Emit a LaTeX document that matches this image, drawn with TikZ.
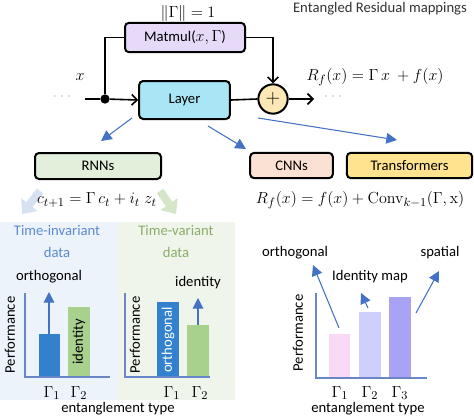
\documentclass[tikz,border=0pt]{standalone}
\usepackage[no-math]{fontspec}
\setmainfont{Carlito}
\usetikzlibrary{arrows.meta}
\definecolor{matmulpurple}{HTML}{E6DAF8}
\definecolor{layercyan}{HTML}{A8E6F5}
\definecolor{plusyellow}{HTML}{FCE8B6}
\definecolor{rnngreen}{HTML}{E2EFDA}
\definecolor{cnnpeach}{HTML}{FBE1D3}
\definecolor{transgold}{HTML}{FFE38F}
\definecolor{arrowblue}{HTML}{4472C4}
\definecolor{fadeblue}{HTML}{D6E2F3}
\definecolor{fadegreen}{HTML}{D5E6C8}
\definecolor{bgblue}{HTML}{EDF3FA}
\definecolor{bggreen}{HTML}{EFF5EA}
\definecolor{invarblue}{HTML}{5B8BD0}
\definecolor{vargreen}{HTML}{8AAE6A}
\definecolor{barblue}{HTML}{3380CC}
\definecolor{bargreen}{HTML}{A9D18E}
\definecolor{axisblue}{HTML}{6A86C8}
\definecolor{barpink}{HTML}{F9D9F6}
\definecolor{barlilac}{HTML}{CFCFFB}
\definecolor{barviolet}{HTML}{AAA2F2}
\tikzset{
    box/.style={draw,line width=1.5pt,rounded corners=3pt,inner sep=0pt},
    conn/.style={line width=1.2pt},
    blackhead/.style={-{Straight Barb[length=4pt,width=8pt]}},
    bluearrow/.style={arrowblue,line width=0.8pt,-{Triangle[length=8pt,width=8pt]}},
    fadearrow/.style={line width=6pt,-{Triangle[length=9pt,width=15pt]}},
    axis/.style={axisblue,line width=1pt},
    lbl/.style={font=\fontsize{11}{13}\selectfont,inner sep=1pt},
    eq/.style={font=\fontsize{12.5}{14}\selectfont,inner sep=1pt}
}
\newcommand{\perfbar}[4]{
    \fill[#4] (#1,#3) rectangle (#2,377);
}
\begin{document}
\begin{tikzpicture}[x=0.75pt,y=-0.75pt]
        \useasboundingbox (0,0) rectangle (474,418);

        \node[lbl,text=black!80] (title) at (380,9) {Entangled Residual mappings};
        \node[eq] (norm) at (188,13) {$\|\Gamma\| = 1$};

        \node[box,fill=matmulpurple,minimum width=90pt,minimum height=22pt,lbl] (matmul) at (185,37.5) {Matmul({\fontsize{12.5}{14}\selectfont$x,\Gamma$})};
        \node[box,fill=layercyan,minimum width=68pt,minimum height=28.5pt,lbl] (layer) at (184.5,100) {Layer};
        \node[circle,draw,line width=1.5pt,fill=plusyellow,minimum size=22pt,inner sep=0pt] (plus) at (273,99) {\Large $\mathbf{+}$};
        \node[circle,fill,inner sep=0pt,minimum size=7pt] (dot) at (105,99) {};
        \node[eq,text=black!25] (ldots) at (62,97) {$\cdots$};
        \node[eq,text=black!25] (rdots) at (333,97) {$\cdots$};
        \coordinate (xin) at (85,99);
        \coordinate (xout) at (314,99);
        \node[eq] (xlabel) at (80,77) {$x$};
        \node[eq] (rfout) at (375,77) {$R_f(x) = \Gamma\, x\ + f(x)$};

        \draw[conn] (xin) -- (dot);
        \draw[conn,blackhead] (dot) -- (layer.west);
        \draw[conn] (dot) |- (matmul.west);
        \draw[conn,blackhead] (matmul.east) -| (plus.north);
        \draw[conn] (layer.east) -- (plus.west);
        \draw[conn,blackhead] (plus.east) -- (xout);

        \node[box,fill=rnngreen,minimum width=94.5pt,minimum height=19.5pt,lbl] (rnn) at (98,166) {RNNs};
        \node[box,fill=cnnpeach,minimum width=62pt,minimum height=19pt,lbl] (cnn) at (291.5,165.5) {CNNs};
        \node[box,fill=transgold,minimum width=94pt,minimum height=19pt,lbl] (trans) at (409.5,165.5) {Transformers};

        \coordinate (s1) at (132,118);
        \coordinate (t1) at (101,141);
        \coordinate (s2) at (208,126);
        \coordinate (t2) at (246,149);
        \coordinate (s3) at (258,118);
        \coordinate (t3) at (397,140);
        \draw[bluearrow] (s1) -- (t1);
        \draw[bluearrow] (s2) -- (t2);
        \draw[bluearrow] (s3) -- (t3);

        \fill[bgblue] (0,222) rectangle (118,400);
        \fill[bggreen] (118,222) rectangle (235,400);
        \coordinate (fb1) at (40,191);
        \coordinate (fb2) at (22,214);
        \coordinate (fg1) at (160,191);
        \coordinate (fg2) at (176,214);
        \draw[fadearrow,fadeblue] (fb1) -- (fb2);
        \draw[fadearrow,fadegreen] (fg1) -- (fg2);

        \node[eq] (rnneq) at (97,200) {$c_{t+1} = \Gamma\, c_t + i_t\; z_t$};
        \node[eq] (cnneq) at (360,200) {$R_f(x) = f(x) + \mathrm{Conv}_{k-1}(\Gamma, \mathrm{x})$};

        \node[lbl,text=invarblue] (invar) at (57,231) {Time-invariant};
        \node[lbl,text=invarblue] (invardata) at (57,252) {data};
        \node[lbl,text=vargreen] (var) at (176,231) {Time-variant};
        \node[lbl,text=vargreen] (vardata) at (176,252) {data};

        \perfbar{39}{60}{334}{barblue}
        \perfbar{68}{90}{307}{bargreen}
        \draw[axis] (25,293) -- (25,377) -- (110,377);
        \coordinate (a1) at (49,334);
        \coordinate (a1t) at (49,292);
        \draw[bluearrow] (a1) -- (a1t);
        \node[lbl] (orthoA) at (49,277) {orthogonal};
        \node[lbl,rotate=90] (identA) at (79,342) {identity};
        \node[lbl,rotate=90] (perfA) at (10,335) {Performance};
        \node[eq] (g1A) at (52,393) {$\Gamma_1$};
        \node[eq] (g2A) at (79,393) {$\Gamma_2$};

        \perfbar{157}{179}{302}{barblue}
        \perfbar{187}{209}{325}{bargreen}
        \draw[axis] (125,293) -- (125,377) -- (210,377);
        \coordinate (a2) at (198,325);
        \coordinate (a2t) at (198,298);
        \draw[bluearrow] (a2) -- (a2t);
        \node[lbl] (identB) at (198,283) {identity};
        \node[lbl,rotate=90,text=white] (orthoB) at (168,340) {orthogonal};
        \node[lbl,rotate=90] (perfB) at (135,335) {Performance};
        \node[eq] (g1B) at (172,393) {$\Gamma_1$};
        \node[eq] (g2B) at (200,393) {$\Gamma_2$};
        \node[lbl] (typeA) at (118,409) {entanglement type};

        \perfbar{329}{350}{334}{barpink}
        \perfbar{359}{381}{312}{barlilac}
        \perfbar{389}{411}{297}{barviolet}
        \draw[axis] (316,293) -- (316,378) -- (427,378);
        \coordinate (c1) at (339,328);
        \coordinate (c1t) at (313,265);
        \coordinate (c2) at (368,308);
        \coordinate (c2t) at (361,293);
        \coordinate (c3) at (416,313);
        \coordinate (c3t) at (439,271);
        \draw[bluearrow] (c1) -- (c1t);
        \draw[bluearrow] (c2) -- (c2t);
        \draw[bluearrow] (c3) -- (c3t);
        \node[lbl] (orthoC) at (295,253) {orthogonal};
        \node[lbl] (identC) at (370,277) {Identity map};
        \node[lbl] (spatialC) at (440,253) {spatial};
        \node[lbl,rotate=90] (perfC) at (298,333) {Performance};
        \node[eq] (g1C) at (340,393) {$\Gamma_1$};
        \node[eq] (g2C) at (370,393) {$\Gamma_2$};
        \node[eq] (g3C) at (400,393) {$\Gamma_3$};
        \node[lbl] (typeC) at (368,409) {entanglement type};
    \end{tikzpicture}
\end{document}
